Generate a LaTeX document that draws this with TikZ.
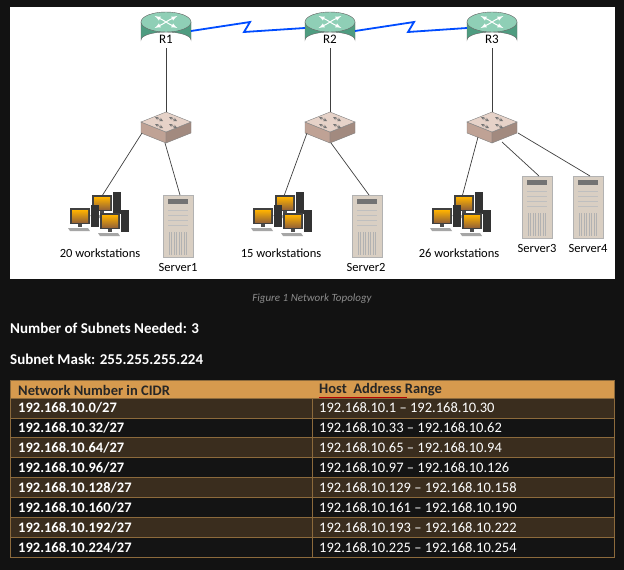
\documentclass[tikz,border=0pt]{standalone}
\usepackage{fontspec}
\setmainfont{Carlito}
\begin{document}
\begin{tikzpicture}[x=1pt,y=-1pt,
  lbl/.style={font=\fontsize{12.5}{13}\selectfont, text=black, inner sep=0},
  link/.style={draw=black!75, line width=0.7pt},
  wan/.style={draw=blue!70!cyan, line width=1.8pt, line join=miter},
  cell/.style={font=\fontsize{14.5}{15}\selectfont, text=white, anchor=west, inner sep=0}]
\definecolor{bgdark}{HTML}{121212}
\definecolor{rowA}{HTML}{3A2D1E}
\definecolor{rowB}{HTML}{141414}
\definecolor{hdr}{HTML}{D69A4E}
\definecolor{brd}{HTML}{8C6A3C}
\definecolor{rtop}{HTML}{8FCFB6}
\definecolor{rbody}{HTML}{4E9C80}
\definecolor{swtop}{HTML}{E6D2C8}
\definecolor{swside}{HTML}{BFA295}
\definecolor{srv}{HTML}{D9CFC3}
\fill[bgdark] (0,0) rectangle (624,570);
\useasboundingbox (0,0) rectangle (624,570);
\fill[white] (10,7) rectangle (615,279);

% routers
\newcommand\myrouter[3]{%
  \fill[rbody, draw=black!60, line width=0.4pt] (#1-25,22) -- (#1-25,40) arc[start angle=180,end angle=360,x radius=25,y radius=8] -- (#1+25,22) -- cycle;
  \fill[rtop, draw=black!60, line width=0.4pt] (#1,22) ellipse[x radius=25,y radius=10];
  \foreach \a in {45,135,225,315}{\draw[white, line width=1pt, -latex] (#1,22) -- ++(\a:4 and 2.5) -- ++(\a:12 and 6);}
  \node[lbl, font=\fontsize{13}{14}\selectfont] (#2) at (#1,39) {#3};
  \coordinate (#2b) at (#1,48);}
\myrouter{166}{r1}{R1}
\myrouter{330}{r2}{R2}
\myrouter{492}{r3}{R3}
\draw[wan] (191,31) -- (250,22) -- (244,32) -- (305,28);
\draw[wan] (355,31) -- (414,22) -- (408,32) -- (467,28);

% switches
\newcommand\myswitch[2]{%
  \fill[swside, draw=black!50, line width=0.4pt] (#1-25,122) -- (#1,132) -- (#1,143) -- (#1-25,133) -- cycle;
  \fill[swside!85!black, draw=black!50, line width=0.4pt] (#1+25,122) -- (#1,132) -- (#1,143) -- (#1+25,133) -- cycle;
  \fill[swtop, draw=black!50, line width=0.4pt] (#1,112) -- (#1+25,122) -- (#1,132) -- (#1-25,122) -- cycle;
  \foreach \dx/\dy in {-7/-3,7/-3,-7/4,7/4}{\draw[black!55, line width=0.6pt, <->, >=stealth] (#1+\dx-4,122+\dy-2) -- (#1+\dx+4,122+\dy+2);}
  \coordinate (#2) at (#1,112);}
\myswitch{166}{s1}
\myswitch{330}{s2}
\myswitch{492}{s3}
\draw[link] (r1b) -- (s1); \draw[link] (r2b) -- (s2); \draw[link] (r3b) -- (s3);

% workstations
\newcommand\mypc[2]{%
  \fill[black!80] (#1+11,#2-12) rectangle (#1+19,#2+10);
  \fill[black!75] (#1-10,#2-9) rectangle (#1+10,#2+7);
  \shade[top color=orange!60!yellow, bottom color=brown!80!black] (#1-8,#2-7) rectangle (#1+8,#2+5);
  \fill[black!70] (#1-2,#2+7) rectangle (#1+2,#2+10);
  \fill[black!35] (#1-12,#2+11) -- (#1+8,#2+11) -- (#1+10,#2+14) -- (#1-10,#2+14) -- cycle;}
\newcommand\mygroup[2]{%
  \mypc{#1+2}{#2-18}
  \mypc{#1-20}{#2-5}
  \mypc{#1+10}{#2}}
\mygroup{100}{222}
\mygroup{283}{222}
\mygroup{462}{222}
\coordinate (w1) at (102,196); \coordinate (w2) at (284,196); \coordinate (w3) at (462,197);

% servers
\newcommand\myserver[4]{%
  \fill[srv, draw=black!30, line width=0.3pt] (#1,#2) rectangle (#1+30,#3);
  \fill[black!55] (#1+5,#2+4) rectangle (#1+25,#2+9);
  \foreach \k in {0,1,2,3}{\draw[black!25] (#1+5,#2+15+5*\k) -- (#1+25,#2+15+5*\k);}
  \foreach \k in {0,...,7}{\draw[black!30] (#1+6+2.5*\k,#3-25) -- (#1+6+2.5*\k,#3-2);}
  \coordinate (#4) at (#1+17,#2);}
\myserver{163}{195}{257}{sv1}
\myserver{352}{195}{257}{sv2}
\myserver{522}{176}{238}{sv3}
\myserver{573}{176}{238}{sv4}

\draw[link] (142,133) -- (w1); \draw[link] (165,143) -- (sv1);
\draw[link] (307,133) -- (w2); \draw[link] (331,143) -- (sv2);
\draw[link] (478,137) -- (w3); \draw[link] (502,142) -- (sv3); \draw[link] (518,133) -- (sv4);

\node[lbl] (l1) at (100,253) {20 workstations};
\node[lbl] (l2) at (281,253) {15 workstations};
\node[lbl] (l3) at (459,253) {26 workstations};
\node[lbl] (ls1) at (178,267) {Server1};
\node[lbl] (ls2) at (366,267) {Server2};
\node[lbl] (ls3) at (537,248) {Server3};
\node[lbl] (ls4) at (588,248) {Server4};

\node[font=\itshape\fontsize{11}{12}\selectfont, text=black!45] (cap) at (312,299) {Figure 1 Network Topology};
\node[font=\bfseries\fontsize{15}{16}\selectfont, text=white, anchor=west, inner sep=0] (n1) at (10,328) {Number of Subnets Needed: 3};
\node[font=\bfseries\fontsize{15}{16}\selectfont, text=white, anchor=west, inner sep=0] (n2) at (10,359) {Subnet Mask: 255.255.255.224};

% table
\fill[hdr] (10,380) rectangle (614,398);
\foreach \i in {0,...,7}{
  \pgfmathsetmacro\yt{398+19.9*\i}
  \ifodd\i \fill[rowB] (10,\yt) rectangle (614,\yt+19.9); \else \fill[rowA] (10,\yt) rectangle (614,\yt+19.9); \fi
  \draw[brd, line width=0.7pt] (10,\yt) -- (614,\yt);}
\draw[brd, line width=0.8pt] (10,380) rectangle (614,557.2);
\draw[brd, line width=0.8pt] (312,398) -- (312,557.2);
\node[cell, text=black!85, font=\bfseries\fontsize{14.5}{15}\selectfont] (h1) at (18,390) {Network Number in CIDR};
\node[cell, text=black!85, font=\bfseries\fontsize{14.5}{15}\selectfont] (h2) at (319,390) {Host\ \ Address Range};
\draw[red!70!black, line width=0.7pt] (319,397) -- (407,397);
\foreach \n/\a/\b [count=\i from 0] in {0/1/30,32/33/62,64/65/94,96/97/126,128/129/158,160/161/190,192/193/222,224/225/254}{
  \node[cell, font=\bfseries\fontsize{14.5}{15}\selectfont] (c\i) at (18,408+19.9*\i) {192.168.10.\n/27};
  \node[cell] (d\i) at (319,408+19.9*\i) {192.168.10.\a\ – 192.168.10.\b};}
\end{tikzpicture}
\end{document}
